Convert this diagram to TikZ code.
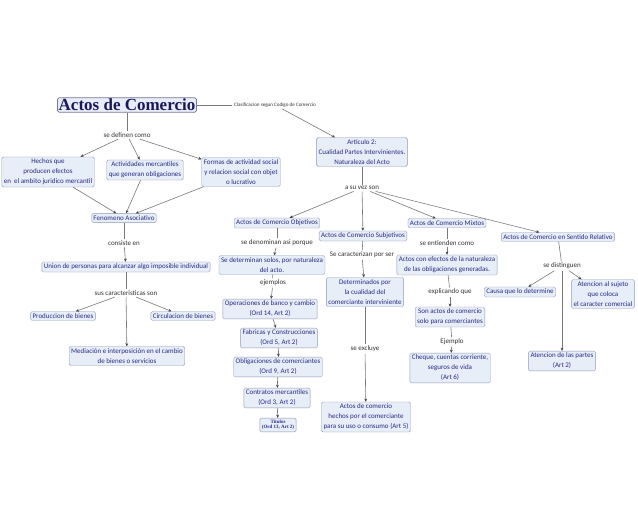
\documentclass[tikz,border=0pt]{standalone}
\usepackage{fontspec}
\setmainfont{Carlito}
\newfontfamily\titlefont{Liberation Serif}
\usetikzlibrary{arrows.meta}
\definecolor{cfill}{RGB}{232,238,247}
\definecolor{cborder}{RGB}{140,155,185}
\definecolor{ctext}{RGB}{38,42,135}
\definecolor{ctitle}{RGB}{25,25,90}
\definecolor{cline}{RGB}{120,120,120}

\begin{document}
\begin{tikzpicture}[
    x=1pt, y=-1pt,
    >={Stealth[length=3.2pt, width=2.8pt, color=black!75]},
    conc/.style={draw=cborder, fill=cfill, rounded corners=1.5pt, text=ctext, font=\fontsize{7}{10}\selectfont, align=center, inner sep=2pt},
    lbl/.style={font=\fontsize{7}{10}\selectfont, text=black!80, inner sep=1.5pt},
    link/.style={draw=cline, line width=0.6pt},
]
    \useasboundingbox[fill=white] (0,0) rectangle (638,532);

    % Main concept
    \node[conc, draw=ctitle!60, line width=0.8pt, text=ctitle, font=\titlefont\fontsize{17}{17}\selectfont\bfseries, inner sep=1.2pt] (title) at (127,105) {Actos de Comercio};
    \node[lbl, font=\fontsize{5.1}{6}\selectfont] (clasif) at (275,105) {Clasificacion segun Codigo de Comercio};
    \node[lbl] (definen) at (127,135) {se definen como};

    % Left branch
    \node[conc] (hechos) at (48,172) {Hechos que\\producen efectos\\en \ el ambito juridico mercantil};
    \node[conc] (activ) at (145,170) {Actividades mercantiles\\que generan obligaciones};
    \node[conc] (formas) at (241,172) {Formas de actividad social\\y relacion social con objet\\o lucrativo};
    \node[conc] (fenom) at (124,218) {Fenomeno Asociativo};
    \node[lbl] (consiste) at (124,243) {consiste en};
    \node[conc] (union) at (126,267) {Union de personas para alcanzar algo imposible individual};
    \node[lbl] (caract) at (126,293) {sus caracteristicas son};
    \node[conc] (produc) at (63,316) {Produccion de bienes};
    \node[conc] (circul) at (183,316) {Circulacion de bienes};
    \node[conc] (media) at (127,356) {Mediación e interposición en el cambio\\de bienes o servicios};

    % Articulo 2
    \node[conc] (art2) at (362,152) {Articulo 2:\\Cualidad Partes Intervinientes.\\Naturaleza del Acto};
    \node[lbl] (suvez) at (362,188) {a su vez son};
    \node[conc] (objet) at (277,223) {Actos de Comercio Objetivos};
    \node[conc] (subjet) at (363,236) {Actos de Comercio Subjetivos};
    \node[conc] (mixtos) at (447,223) {Actos de Comercio Mixtos};
    \node[conc] (relat) at (558,237) {Actos de Comercio en Sentido Relativo};

    % Objetivos
    \node[lbl] (denomin) at (277,243) {se denominan asi porque};
    \node[conc] (solos) at (272,265) {Se determinan solos, por naturaleza\\del acto.};
    \node[lbl] (ejemplos) at (273,283) {ejemplos};
    \node[conc] (banco) at (270,309) {Operaciones de banco y cambio\\(Ord 14, Art 2)};
    \node[conc] (fabric) at (279,338) {Fabricas y Construcciones\\(Ord 5, Art 2)};
    \node[conc] (oblig) at (278,367) {Obligaciones de comerciantes\\(Ord 9, Art 2)};
    \node[conc] (contrat) at (277,398) {Contratos mercantiles\\(Ord 3, Art 2)};
    \node[conc, font=\titlefont\fontsize{5}{5.2}\selectfont\bfseries, inner sep=2pt] (titulos) at (278,425) {Títulos\\(Ord 13, Art 2)};

    % Subjetivos
    \node[lbl] (caracter) at (362,255) {Se caracterizan por ser};
    \node[conc] (determ) at (365,292) {Determinados por\\la cualidad del\\comerciante interviniente};
    \node[lbl] (excluye) at (365,349) {se excluye};
    \node[conc] (consumo) at (366,417) {Actos de comercio\\hechos por el comerciante\\para su uso o consumo (Art 5)};

    % Mixtos
    \node[lbl] (entienden) at (447,243) {se entienden como};
    \node[conc] (efectos) at (447,265) {Actos con efectos de la naturaleza\\de las obligaciones generadas.};
    \node[lbl] (explic) at (450,292) {explicando que};
    \node[conc] (solocom) at (450,317) {Son actos de comercio\\solo para comerciantes};
    \node[lbl] (ejemplo) at (452,342) {Ejemplo};
    \node[conc] (cheque) at (450,368) {Cheque, cuentas corriente,\\seguros de vida\\(Art 6)};

    % Sentido relativo
    \node[lbl] (disting) at (562,266) {se distinguen};
    \node[conc] (causa) at (520,292) {Causa que lo determine};
    \node[conc] (sujeto) at (603,294) {Atencion al sujeto\\que coloca\\el caracter comercial};
    \node[conc] (partes) at (562,361) {Atencion de las partes\\(Art 2)};

    % Connectors
    \draw[link] (title) -- (clasif);
    \draw[link, ->] (clasif) -- (art2);
    \draw[link] (title) -- (definen);
    \foreach \t in {hechos, activ, formas}
        \draw[link, ->] (definen) -- (\t);
    \draw[link, ->] (hechos) -- (fenom);
    \draw[link, ->] (activ) -- (fenom);
    \draw[link, ->] (formas) -- (fenom);
    \draw[link] (fenom) -- (consiste);
    \draw[link, ->] (consiste) -- (union);
    \draw[link] (union) -- (caract);
    \foreach \t in {produc, circul, media}
        \draw[link, ->] (caract) -- (\t);

    \draw[link] (art2) -- (suvez);
    \foreach \t in {objet, subjet, mixtos, relat}
        \draw[link, ->] (suvez) -- (\t);

    \draw[link] (objet) -- (denomin);
    \draw[link, ->] (denomin) -- (solos);
    \draw[link] (solos) -- (ejemplos);
    \draw[link, ->] (ejemplos) -- (banco);
    \draw[link, ->] (banco) -- (fabric);
    \draw[link, ->] (fabric) -- (oblig);
    \draw[link, ->] (oblig) -- (contrat);
    \draw[link, ->] (contrat) -- (titulos);

    \draw[link] (subjet) -- (caracter);
    \draw[link, ->] (caracter) -- (determ);
    \draw[link] (determ) -- (excluye);
    \draw[link, ->] (excluye) -- (consumo);

    \draw[link] (mixtos) -- (entienden);
    \draw[link, ->] (entienden) -- (efectos);
    \draw[link] (efectos) -- (explic);
    \draw[link, ->] (explic) -- (solocom);
    \draw[link] (solocom) -- (ejemplo);
    \draw[link, ->] (ejemplo) -- (cheque);

    \draw[link] (relat) -- (disting);
    \foreach \t in {causa, sujeto, partes}
        \draw[link, ->] (disting) -- (\t);
\end{tikzpicture}
\end{document}
